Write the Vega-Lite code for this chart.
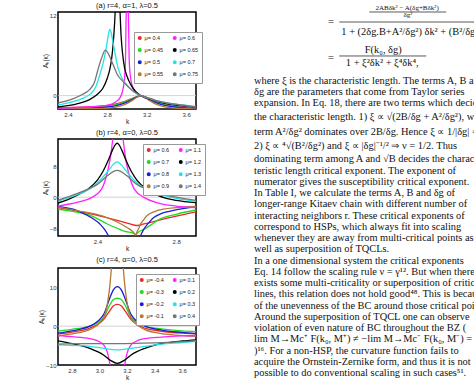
{
"$schema": "https://vega.github.io/schema/vega-lite/v6.json",
"padding": {"left": 38, "top": 0, "right": 0, "bottom": 0},
"background": "white",
"config": {
  "view": {"stroke": "#000", "strokeWidth": 1.5},
  "axis": {"ticks": false, "domain": false, "grid": false, "labelFontSize": 6, "labelFont": "Liberation Sans", "labelColor": "#333", "titleFontSize": 6.5, "titleFont": "Liberation Sans", "titleFontWeight": "normal", "titleColor": "#222", "labelPadding": 2, "titlePadding": 1},
  "title": {"fontSize": 7.5, "font": "Liberation Sans", "fontWeight": "normal", "color": "#111", "offset": 3},
  "legend": {"title": null, "columns": 2, "symbolType": "circle", "symbolSize": 4, "symbolStrokeWidth": 2, "labelFontSize": 5.5, "labelFont": "Liberation Sans", "labelColor": "#222", "rowPadding": 1.2, "columnPadding": 5, "padding": 3, "strokeColor": "#999", "fillColor": "#fff", "labelOffset": 2}
},
"datasets": {
"a": [
{"mu":"0.4","k":2.3,"y":-1.85},{"mu":"0.4","k":2.6,"y":-1.7},{"mu":"0.4","k":2.8,"y":-1.45},{"mu":"0.4","k":2.9,"y":-1.2},{"mu":"0.4","k":2.98,"y":-0.85},{"mu":"0.4","k":3.05,"y":-0.45},{"mu":"0.4","k":3.1,"y":-0.15},{"mu":"0.4","k":3.14,"y":0},{"mu":"0.4","k":3.18,"y":-0.15},{"mu":"0.4","k":3.23,"y":-0.45},{"mu":"0.4","k":3.3,"y":-0.85},{"mu":"0.4","k":3.38,"y":-1.2},{"mu":"0.4","k":3.48,"y":-1.45},{"mu":"0.4","k":3.6,"y":-1.65},{"mu":"0.4","k":3.7,"y":-1.75},
{"mu":"0.45","k":2.3,"y":-1.9},{"mu":"0.45","k":2.6,"y":-1.8},{"mu":"0.45","k":2.8,"y":-1.55},{"mu":"0.45","k":2.9,"y":-1.3},{"mu":"0.45","k":2.98,"y":-0.95},{"mu":"0.45","k":3.05,"y":-0.5},{"mu":"0.45","k":3.1,"y":-0.17},{"mu":"0.45","k":3.14,"y":0},{"mu":"0.45","k":3.18,"y":-0.17},{"mu":"0.45","k":3.23,"y":-0.5},{"mu":"0.45","k":3.3,"y":-0.95},{"mu":"0.45","k":3.38,"y":-1.3},{"mu":"0.45","k":3.48,"y":-1.55},{"mu":"0.45","k":3.6,"y":-1.75},{"mu":"0.45","k":3.7,"y":-1.82},
{"mu":"0.5","k":2.3,"y":-1.95},{"mu":"0.5","k":2.6,"y":-1.88},{"mu":"0.5","k":2.8,"y":-1.7},{"mu":"0.5","k":2.9,"y":-1.45},{"mu":"0.5","k":2.98,"y":-1.1},{"mu":"0.5","k":3.05,"y":-0.6},{"mu":"0.5","k":3.1,"y":-0.2},{"mu":"0.5","k":3.14,"y":0},{"mu":"0.5","k":3.18,"y":-0.2},{"mu":"0.5","k":3.23,"y":-0.6},{"mu":"0.5","k":3.3,"y":-1.1},{"mu":"0.5","k":3.38,"y":-1.45},{"mu":"0.5","k":3.48,"y":-1.7},{"mu":"0.5","k":3.6,"y":-1.85},{"mu":"0.5","k":3.7,"y":-1.9},
{"mu":"0.55","k":2.3,"y":-1.98},{"mu":"0.55","k":2.6,"y":-1.95},{"mu":"0.55","k":2.8,"y":-1.86},{"mu":"0.55","k":2.9,"y":-1.68},{"mu":"0.55","k":2.98,"y":-1.32},{"mu":"0.55","k":3.05,"y":-0.75},{"mu":"0.55","k":3.1,"y":-0.25},{"mu":"0.55","k":3.14,"y":0},{"mu":"0.55","k":3.18,"y":-0.25},{"mu":"0.55","k":3.23,"y":-0.75},{"mu":"0.55","k":3.3,"y":-1.32},{"mu":"0.55","k":3.38,"y":-1.68},{"mu":"0.55","k":3.48,"y":-1.86},{"mu":"0.55","k":3.6,"y":-1.94},{"mu":"0.55","k":3.7,"y":-1.98},
{"mu":"0.6","k":2.3,"y":-1.85},{"mu":"0.6","k":2.6,"y":-1.7},{"mu":"0.6","k":2.8,"y":-1.45},{"mu":"0.6","k":2.88,"y":-1.0},{"mu":"0.6","k":2.93,"y":-0.3},{"mu":"0.6","k":2.96,"y":1.0},{"mu":"0.6","k":2.975,"y":2.6},{"mu":"0.6","k":2.985,"y":5.5},{"mu":"0.6","k":2.992,"y":12.5},{"mu":"0.6","k":3.003,"y":30},{"mu":"0.6","k":3.014,"y":12.5},{"mu":"0.6","k":3.022,"y":5.5},{"mu":"0.6","k":3.035,"y":2.8},{"mu":"0.6","k":3.055,"y":1.4},{"mu":"0.6","k":3.085,"y":0.6},{"mu":"0.6","k":3.14,"y":0},{"mu":"0.6","k":3.25,"y":-0.6},{"mu":"0.6","k":3.4,"y":-1.2},{"mu":"0.6","k":3.55,"y":-1.55},{"mu":"0.6","k":3.7,"y":-1.75},
{"mu":"0.65","k":2.3,"y":-1.7},{"mu":"0.65","k":2.5,"y":-1.2},{"mu":"0.65","k":2.62,"y":-0.6},{"mu":"0.65","k":2.7,"y":0.2},{"mu":"0.65","k":2.755,"y":1.1},{"mu":"0.65","k":2.8,"y":2.6},{"mu":"0.65","k":2.825,"y":3.9},{"mu":"0.65","k":2.845,"y":5.6},{"mu":"0.65","k":2.86,"y":7.8},{"mu":"0.65","k":2.875,"y":11},{"mu":"0.65","k":2.885,"y":14},{"mu":"0.65","k":2.905,"y":20},{"mu":"0.65","k":2.925,"y":14},{"mu":"0.65","k":2.94,"y":9},{"mu":"0.65","k":2.955,"y":6.3},{"mu":"0.65","k":2.975,"y":4.2},{"mu":"0.65","k":3.0,"y":2.9},{"mu":"0.65","k":3.04,"y":1.6},{"mu":"0.65","k":3.085,"y":0.65},{"mu":"0.65","k":3.14,"y":0},{"mu":"0.65","k":3.25,"y":-0.6},{"mu":"0.65","k":3.4,"y":-1.2},{"mu":"0.65","k":3.55,"y":-1.5},{"mu":"0.65","k":3.7,"y":-1.7},
{"mu":"0.7","k":2.3,"y":-1.4},{"mu":"0.7","k":2.45,"y":-0.9},{"mu":"0.7","k":2.55,"y":-0.4},{"mu":"0.7","k":2.62,"y":0.15},{"mu":"0.7","k":2.68,"y":1.2},{"mu":"0.7","k":2.72,"y":2.9},{"mu":"0.7","k":2.76,"y":5.0},{"mu":"0.7","k":2.79,"y":7.2},{"mu":"0.7","k":2.81,"y":9.0},{"mu":"0.7","k":2.825,"y":9.9},{"mu":"0.7","k":2.84,"y":9.4},{"mu":"0.7","k":2.86,"y":7.8},{"mu":"0.7","k":2.885,"y":5.8},{"mu":"0.7","k":2.91,"y":4.1},{"mu":"0.7","k":2.95,"y":2.6},{"mu":"0.7","k":3.0,"y":1.6},{"mu":"0.7","k":3.05,"y":0.8},{"mu":"0.7","k":3.1,"y":0.3},{"mu":"0.7","k":3.14,"y":0},{"mu":"0.7","k":3.25,"y":-0.55},{"mu":"0.7","k":3.4,"y":-1.1},{"mu":"0.7","k":3.55,"y":-1.4},{"mu":"0.7","k":3.7,"y":-1.6},
{"mu":"0.75","k":2.3,"y":-1.1},{"mu":"0.75","k":2.45,"y":-0.5},{"mu":"0.75","k":2.55,"y":0.2},{"mu":"0.75","k":2.62,"y":0.9},{"mu":"0.75","k":2.67,"y":2.0},{"mu":"0.75","k":2.7,"y":3.6},{"mu":"0.75","k":2.74,"y":5.5},{"mu":"0.75","k":2.78,"y":6.8},{"mu":"0.75","k":2.81,"y":6.3},{"mu":"0.75","k":2.84,"y":5.3},{"mu":"0.75","k":2.86,"y":4.6},{"mu":"0.75","k":2.9,"y":3.2},{"mu":"0.75","k":2.96,"y":2.1},{"mu":"0.75","k":3.02,"y":1.2},{"mu":"0.75","k":3.07,"y":0.6},{"mu":"0.75","k":3.14,"y":0},{"mu":"0.75","k":3.25,"y":-0.5},{"mu":"0.75","k":3.31,"y":-0.8},{"mu":"0.75","k":3.45,"y":-1.2},{"mu":"0.75","k":3.6,"y":-1.5},{"mu":"0.75","k":3.7,"y":-1.7}
],
"b": [
{"mu":"0.6","k":2.2,"y":-2.7},{"mu":"0.6","k":2.3,"y":-3.6},{"mu":"0.6","k":2.4,"y":-4.7},{"mu":"0.6","k":2.5,"y":-6.0},{"mu":"0.6","k":2.56,"y":-6.8},{"mu":"0.6","k":2.6,"y":-7.3},{"mu":"0.6","k":2.62,"y":-7.1},{"mu":"0.6","k":2.66,"y":-6.6},{"mu":"0.6","k":2.7,"y":-6.1},{"mu":"0.6","k":2.8,"y":-4.9},{"mu":"0.6","k":2.9,"y":-3.8},
{"mu":"0.7","k":2.2,"y":-3.1},{"mu":"0.7","k":2.3,"y":-3.9},{"mu":"0.7","k":2.37,"y":-4.8},{"mu":"0.7","k":2.45,"y":-6.9},{"mu":"0.7","k":2.5,"y":-8.0},{"mu":"0.7","k":2.54,"y":-8.8},{"mu":"0.7","k":2.585,"y":-9.3},{"mu":"0.7","k":2.595,"y":-9.6},{"mu":"0.7","k":2.61,"y":-8.9},{"mu":"0.7","k":2.635,"y":-8.3},{"mu":"0.7","k":2.67,"y":-7.2},{"mu":"0.7","k":2.7,"y":-6.1},{"mu":"0.7","k":2.8,"y":-4.4},{"mu":"0.7","k":2.9,"y":-3.3},
{"mu":"0.8","k":2.2,"y":-2.4},{"mu":"0.8","k":2.3,"y":-3.5},{"mu":"0.8","k":2.37,"y":-5.3},{"mu":"0.8","k":2.41,"y":-6.8},{"mu":"0.8","k":2.436,"y":-8.3},{"mu":"0.8","k":2.46,"y":-10.5},{"mu":"0.8","k":2.48,"y":-14},{"mu":"0.8","k":2.545,"y":-25},{"mu":"0.8","k":2.6,"y":-14},{"mu":"0.8","k":2.615,"y":-10.5},{"mu":"0.8","k":2.635,"y":-8.3},{"mu":"0.8","k":2.66,"y":-6.6},{"mu":"0.8","k":2.684,"y":-5.3},{"mu":"0.8","k":2.72,"y":-4.3},{"mu":"0.8","k":2.77,"y":-3.6},{"mu":"0.8","k":2.84,"y":-2.9},{"mu":"0.8","k":2.9,"y":-2.5},
{"mu":"0.9","k":2.2,"y":-2.5},{"mu":"0.9","k":2.3,"y":-3.5},{"mu":"0.9","k":2.4,"y":-4.5},{"mu":"0.9","k":2.45,"y":-5.3},{"mu":"0.9","k":2.5,"y":-6.4},{"mu":"0.9","k":2.55,"y":-7.8},{"mu":"0.9","k":2.58,"y":-8.9},{"mu":"0.9","k":2.595,"y":-9.8},{"mu":"0.9","k":2.6,"y":-9.0},{"mu":"0.9","k":2.61,"y":-8.0},{"mu":"0.9","k":2.618,"y":-7.0},{"mu":"0.9","k":2.635,"y":-5.8},{"mu":"0.9","k":2.651,"y":-4.8},{"mu":"0.9","k":2.69,"y":-3.7},{"mu":"0.9","k":2.734,"y":-3.1},{"mu":"0.9","k":2.8,"y":-2.7},{"mu":"0.9","k":2.9,"y":-2.4},
{"mu":"1.1","k":2.2,"y":-2.3},{"mu":"1.1","k":2.3,"y":-1.3},{"mu":"1.1","k":2.37,"y":-0.1},{"mu":"1.1","k":2.42,"y":2.0},{"mu":"1.1","k":2.45,"y":6.3},{"mu":"1.1","k":2.465,"y":10},{"mu":"1.1","k":2.478,"y":15},{"mu":"1.1","k":2.504,"y":28},{"mu":"1.1","k":2.53,"y":15},{"mu":"1.1","k":2.543,"y":10},{"mu":"1.1","k":2.558,"y":6.3},{"mu":"1.1","k":2.588,"y":2.0},{"mu":"1.1","k":2.638,"y":-0.1},{"mu":"1.1","k":2.7,"y":-1.4},{"mu":"1.1","k":2.8,"y":-2.3},{"mu":"1.1","k":2.9,"y":-2.7},
{"mu":"1.2","k":2.2,"y":-1.5},{"mu":"1.2","k":2.25,"y":-0.6},{"mu":"1.2","k":2.3,"y":0.6},{"mu":"1.2","k":2.35,"y":2.0},{"mu":"1.2","k":2.4,"y":4.4},{"mu":"1.2","k":2.43,"y":6.8},{"mu":"1.2","k":2.455,"y":9.5},{"mu":"1.2","k":2.475,"y":12},{"mu":"1.2","k":2.49,"y":13.5},{"mu":"1.2","k":2.5,"y":13.9},{"mu":"1.2","k":2.51,"y":13.5},{"mu":"1.2","k":2.525,"y":12},{"mu":"1.2","k":2.545,"y":9.5},{"mu":"1.2","k":2.57,"y":6.8},{"mu":"1.2","k":2.6,"y":4.4},{"mu":"1.2","k":2.65,"y":2.0},{"mu":"1.2","k":2.7,"y":0.6},{"mu":"1.2","k":2.75,"y":-0.3},{"mu":"1.2","k":2.8,"y":-0.8},{"mu":"1.2","k":2.9,"y":-1.4},
{"mu":"1.3","k":2.2,"y":-1.0},{"mu":"1.3","k":2.3,"y":0.7},{"mu":"1.3","k":2.35,"y":1.8},{"mu":"1.3","k":2.4,"y":3.7},{"mu":"1.3","k":2.45,"y":6.5},{"mu":"1.3","k":2.48,"y":8.4},{"mu":"1.3","k":2.5,"y":9.1},{"mu":"1.3","k":2.52,"y":8.4},{"mu":"1.3","k":2.55,"y":6.5},{"mu":"1.3","k":2.6,"y":3.7},{"mu":"1.3","k":2.65,"y":2.0},{"mu":"1.3","k":2.7,"y":1.0},{"mu":"1.3","k":2.8,"y":-0.3},{"mu":"1.3","k":2.9,"y":-1.0},
{"mu":"1.4","k":2.2,"y":-0.8},{"mu":"1.4","k":2.3,"y":1.0},{"mu":"1.4","k":2.35,"y":2.0},{"mu":"1.4","k":2.4,"y":3.3},{"mu":"1.4","k":2.45,"y":5.5},{"mu":"1.4","k":2.48,"y":6.6},{"mu":"1.4","k":2.5,"y":6.9},{"mu":"1.4","k":2.52,"y":6.6},{"mu":"1.4","k":2.55,"y":5.5},{"mu":"1.4","k":2.6,"y":3.3},{"mu":"1.4","k":2.65,"y":2.1},{"mu":"1.4","k":2.7,"y":1.2},{"mu":"1.4","k":2.8,"y":0},{"mu":"1.4","k":2.9,"y":-0.8}
],
"c": [
{"mu":"-0.4","k":2.7,"y":-2.0},{"mu":"-0.4","k":2.8,"y":-1.5},{"mu":"-0.4","k":2.93,"y":-0.5},{"mu":"-0.4","k":3.03,"y":1.7},{"mu":"-0.4","k":3.077,"y":4.1},{"mu":"-0.4","k":3.1,"y":5.2},{"mu":"-0.4","k":3.13,"y":5.6},{"mu":"-0.4","k":3.16,"y":5.2},{"mu":"-0.4","k":3.183,"y":4.1},{"mu":"-0.4","k":3.23,"y":1.7},{"mu":"-0.4","k":3.33,"y":-0.5},{"mu":"-0.4","k":3.45,"y":-1.3},{"mu":"-0.4","k":3.6,"y":-1.8},{"mu":"-0.4","k":3.7,"y":-2.0},
{"mu":"-0.3","k":2.7,"y":-1.3},{"mu":"-0.3","k":2.8,"y":-0.8},{"mu":"-0.3","k":2.93,"y":0},{"mu":"-0.3","k":3.03,"y":2.2},{"mu":"-0.3","k":3.077,"y":5.6},{"mu":"-0.3","k":3.1,"y":6.8},{"mu":"-0.3","k":3.13,"y":7.2},{"mu":"-0.3","k":3.16,"y":6.8},{"mu":"-0.3","k":3.183,"y":5.6},{"mu":"-0.3","k":3.23,"y":2.2},{"mu":"-0.3","k":3.33,"y":0},{"mu":"-0.3","k":3.45,"y":-0.7},{"mu":"-0.3","k":3.6,"y":-1.2},{"mu":"-0.3","k":3.7,"y":-1.4},
{"mu":"-0.2","k":2.7,"y":-1.8},{"mu":"-0.2","k":2.8,"y":-1.2},{"mu":"-0.2","k":2.93,"y":0},{"mu":"-0.2","k":3.03,"y":3.0},{"mu":"-0.2","k":3.077,"y":7.4},{"mu":"-0.2","k":3.1,"y":9.3},{"mu":"-0.2","k":3.13,"y":10.2},{"mu":"-0.2","k":3.16,"y":9.3},{"mu":"-0.2","k":3.183,"y":7.4},{"mu":"-0.2","k":3.23,"y":3.0},{"mu":"-0.2","k":3.33,"y":0},{"mu":"-0.2","k":3.45,"y":-1.0},{"mu":"-0.2","k":3.6,"y":-1.6},{"mu":"-0.2","k":3.7,"y":-1.9},
{"mu":"-0.1","k":2.7,"y":-2.5},{"mu":"-0.1","k":2.83,"y":-1.8},{"mu":"-0.1","k":2.93,"y":-0.9},{"mu":"-0.1","k":3.004,"y":0.9},{"mu":"-0.1","k":3.04,"y":3.0},{"mu":"-0.1","k":3.053,"y":4.8},{"mu":"-0.1","k":3.077,"y":10.9},{"mu":"-0.1","k":3.089,"y":16},{"mu":"-0.1","k":3.13,"y":40},{"mu":"-0.1","k":3.171,"y":16},{"mu":"-0.1","k":3.183,"y":10.9},{"mu":"-0.1","k":3.207,"y":4.8},{"mu":"-0.1","k":3.22,"y":3.0},{"mu":"-0.1","k":3.256,"y":0.9},{"mu":"-0.1","k":3.33,"y":-0.9},{"mu":"-0.1","k":3.43,"y":-1.8},{"mu":"-0.1","k":3.55,"y":-2.3},{"mu":"-0.1","k":3.7,"y":-2.6},
{"mu":"0.1","k":2.7,"y":-2.4},{"mu":"0.1","k":2.8,"y":-2.7},{"mu":"0.1","k":2.93,"y":-3.2},{"mu":"0.1","k":3.0,"y":-4.0},{"mu":"0.1","k":3.03,"y":-4.8},{"mu":"0.1","k":3.06,"y":-7.0},{"mu":"0.1","k":3.077,"y":-10},{"mu":"0.1","k":3.1,"y":-16},{"mu":"0.1","k":3.13,"y":-30},{"mu":"0.1","k":3.16,"y":-16},{"mu":"0.1","k":3.183,"y":-10},{"mu":"0.1","k":3.2,"y":-7.0},{"mu":"0.1","k":3.23,"y":-4.8},{"mu":"0.1","k":3.26,"y":-4.0},{"mu":"0.1","k":3.33,"y":-3.2},{"mu":"0.1","k":3.45,"y":-2.8},{"mu":"0.1","k":3.6,"y":-2.5},{"mu":"0.1","k":3.7,"y":-2.4},
{"mu":"0.2","k":2.7,"y":-3.8},{"mu":"0.2","k":2.8,"y":-4.5},{"mu":"0.2","k":2.93,"y":-5.7},{"mu":"0.2","k":3.03,"y":-7.4},{"mu":"0.2","k":3.08,"y":-8.8},{"mu":"0.2","k":3.13,"y":-9.6},{"mu":"0.2","k":3.18,"y":-8.8},{"mu":"0.2","k":3.23,"y":-7.4},{"mu":"0.2","k":3.33,"y":-5.7},{"mu":"0.2","k":3.45,"y":-4.5},{"mu":"0.2","k":3.6,"y":-3.8},{"mu":"0.2","k":3.7,"y":-3.5},
{"mu":"0.3","k":2.7,"y":-4.8},{"mu":"0.3","k":2.85,"y":-5.0},{"mu":"0.3","k":2.93,"y":-5.2},{"mu":"0.3","k":3.03,"y":-5.7},{"mu":"0.3","k":3.13,"y":-6.1},{"mu":"0.3","k":3.23,"y":-5.7},{"mu":"0.3","k":3.33,"y":-5.2},{"mu":"0.3","k":3.45,"y":-4.6},{"mu":"0.3","k":3.6,"y":-4.2},{"mu":"0.3","k":3.7,"y":-3.9},
{"mu":"0.4","k":2.7,"y":-4.6},{"mu":"0.4","k":2.9,"y":-4.5},{"mu":"0.4","k":3.13,"y":-4.5},{"mu":"0.4","k":3.4,"y":-4.3},{"mu":"0.4","k":3.7,"y":-3.8}
],
"body": [
{"line":0,"text":"where ξ is the characteristic length. The terms A, B and"},
{"line":1,"text":"δg are the parameters that come from Taylor series"},
{"line":2,"text":"expansion. In Eq. 18, there are two terms which decide"},
{"line":3.2,"text":"the characteristic length. 1) ξ ∝ √(2B/δg + A²/δg²), where"},
{"line":4.6,"text":"term A²/δg² dominates over 2B/δg. Hence ξ ∝ 1/|δg| ⇒ ν = 1."},
{"line":5.85,"text":"2) ξ ∝ ⁴√(B²/δg²) and ξ ∝ |δg|⁻¹/² ⇒ ν = 1/2. Thus"},
{"line":7,"text":"dominating term among A and √B decides the charac-"},
{"line":8,"text":"teristic length critical exponent. The exponent of"},
{"line":9,"text":"numerator gives the susceptibility critical exponent."},
{"line":10,"text":"In Table I, we calculate the terms A, B and δg of"},
{"line":11,"text":"longer-range Kitaev chain with different number of"},
{"line":12,"text":"interacting neighbors r. These critical exponents of"},
{"line":13,"text":"correspond to HSPs, which always fit into scaling"},
{"line":14,"text":"whenever they are away from multi-critical points as"},
{"line":15,"text":"well as superposition of TQCLs."},
{"line":16,"text":"In a one dimensional system the critical exponents"},
{"line":17,"text":"Eq. 14 follow the scaling rule ν = γ¹². But when there"},
{"line":18,"text":"exists some multi-criticality or superposition of critical"},
{"line":19,"text":"lines, this relation does not hold good⁴⁸. This is because"},
{"line":20,"text":"of the unevenness of the BC around those critical points."},
{"line":21,"text":"Around the superposition of TQCL one can observe"},
{"line":22,"text":"violation of even nature of BC throughout the BZ ("},
{"line":23,"text":"lim M→Mc⁺ F(k₀, M⁺) ≠ −lim M→Mc⁻ F(k₀, M⁻) = 0"},
{"line":24,"text":")¹⁶.   For a non-HSP, the curvature function fails to"},
{"line":25,"text":"acquire the Ornstein-Zernike form, and thus it is not"},
{"line":26,"text":"possible to do conventional scaling in such cases⁵¹."}
],
"eqsmall": [
{"line":-6.44,"col":0.696,"text":"2ABδk² − A(δg+Bδk²)"},
{"line":-5.78,"col":0.70,"text":"δg²"}
],
"eqleft": [
{"line":-5.24,"col":0.336,"text":"="},
{"line":-4.31,"col":0.397,"text":"1 + (2δg.B+A²/δg²) δk² + (B²/δg²) δk⁴"},
{"line":-1.96,"col":0.336,"text":"="}
],
"eqcenter": [
{"line":-2.67,"col":0.5875,"text":"F(k₀, δg)"},
{"line":-1.56,"col":0.583,"text":"1 + ξ²δk² + ξ⁴δk⁴,"}
],
"bars": [
{"line":-6.09,"c0":0.524,"c1":0.874},
{"line":-5.2,"c0":0.3875,"c1":1.0},
{"line":-2.18,"c0":0.3875,"c1":0.783}
]
},
"hconcat": [
{
"vconcat": [
{
"title": {"text": "(a) r=4, α=1, λ=0.5", "offset": 3},
"width": 138, "height": 97,
"layer": [
{"data": {"values": [{}]}, "mark": {"type": "rule", "color": "#c8c8c8", "strokeWidth": 0.8}, "encoding": {"y": {"datum": 0, "type": "quantitative"}}},
{"data": {"name": "a"}, "mark": {"type": "line", "clip": true, "strokeWidth": 1.3, "interpolate": "monotone"},
"encoding": {
"x": {"field": "k", "type": "quantitative", "scale": {"domain": [2.3, 3.7], "nice": false, "zero": false}, "axis": {"values": [2.4, 2.8, 3.2, 3.6], "title": "k"}},
"y": {"field": "y", "type": "quantitative", "scale": {"domain": [-2, 12.5], "nice": false, "zero": false}, "axis": {"values": [0, 4, 8, 12], "title": "Aₖ(κ)"}},
"color": {"field": "mu", "type": "nominal", "scale": {"domain": ["0.4","0.45","0.5","0.55","0.6","0.65","0.7","0.75"], "range": ["#e82a2a","#22d822","#1c1cd6","#b37838","#ff22ff","#000000","#22e4e4","#767676"]}, "legend": {"orient": "none", "legendX": 76, "legendY": 20, "labelExpr": "'μ= ' + datum.label"}}
}}
]
},
{
"title": {"text": "(b) r=4, α=0, λ=0.5", "offset": 3},
"width": 138, "height": 97,
"layer": [
{"data": {"values": [{}]}, "mark": {"type": "rule", "color": "#c8c8c8", "strokeWidth": 0.8}, "encoding": {"y": {"datum": 0, "type": "quantitative"}}},
{"data": {"name": "b"}, "mark": {"type": "line", "clip": true, "strokeWidth": 1.3, "interpolate": "monotone"},
"encoding": {
"x": {"field": "k", "type": "quantitative", "scale": {"domain": [2.2, 2.9], "nice": false, "zero": false}, "axis": {"values": [2.4, 2.8], "title": "k"}},
"y": {"field": "y", "type": "quantitative", "scale": {"domain": [-10, 15], "nice": false, "zero": false}, "axis": {"values": [-8, -4, 0, 4, 8, 12], "title": "Aₖ(κ)"}},
"color": {"field": "mu", "type": "nominal", "scale": {"domain": ["0.6","0.7","0.8","0.9","1.1","1.2","1.3","1.4"], "range": ["#e82a2a","#22d822","#1c1cd6","#b37838","#ff22ff","#000000","#22e4e4","#767676"]}, "legend": {"orient": "none", "legendX": 85, "legendY": 5, "labelExpr": "'μ= ' + datum.label"}}
}}
]
},
{
"title": {"text": "(c) r=4, α=0, λ=0.5", "offset": 5},
"width": 138, "height": 97,
"layer": [
{"data": {"values": [{}]}, "mark": {"type": "rule", "color": "#c8c8c8", "strokeWidth": 0.8}, "encoding": {"y": {"datum": 0, "type": "quantitative"}}},
{"data": {"name": "c"}, "mark": {"type": "line", "clip": true, "strokeWidth": 1.3, "interpolate": "monotone"},
"encoding": {
"x": {"field": "k", "type": "quantitative", "scale": {"domain": [2.7, 3.7], "nice": false, "zero": false}, "axis": {"values": [2.8, 3.0, 3.2, 3.4, 3.6], "format": ".1f", "title": "k"}},
"y": {"field": "y", "type": "quantitative", "scale": {"domain": [-10, 15], "nice": false, "zero": false}, "axis": {"values": [-10, -5, 0, 5, 10, 15], "title": "Aₖ(κ)"}},
"color": {"field": "mu", "type": "nominal", "scale": {"domain": ["-0.4","-0.3","-0.2","-0.1","0.1","0.2","0.3","0.4"], "range": ["#e82a2a","#22d822","#1c1cd6","#b37838","#ff22ff","#000000","#22e4e4","#767676"]}, "legend": {"orient": "none", "legendX": 78, "legendY": 6, "labelExpr": "'μ= ' + datum.label"}}
}}
]
}
],
"spacing": 1,
"resolve": {"scale": {"color": "independent", "x": "independent", "y": "independent"}, "legend": {"color": "independent"}}
},
{
"width": 220, "height": 369,
"view": {"stroke": null},
"layer": [
{"data": {"name": "body"}, "mark": {"type": "text", "align": "left", "baseline": "middle", "font": "Liberation Serif", "fontSize": 10.4, "color": "#111", "clip": true},
"encoding": {
"x": {"datum": 0, "type": "quantitative", "scale": {"domain": [0, 1], "nice": false, "zero": false}, "axis": null},
"y": {"field": "line", "type": "quantitative", "scale": {"domain": [-6.089, 26.711], "reverse": true, "nice": false, "zero": false}, "axis": null},
"text": {"field": "text"}}},
{"data": {"name": "eqsmall"}, "mark": {"type": "text", "align": "center", "baseline": "middle", "font": "Liberation Serif", "fontSize": 7, "color": "#111", "clip": false},
"encoding": {"x": {"field": "col", "type": "quantitative"}, "y": {"field": "line", "type": "quantitative"}, "text": {"field": "text"}}},
{"data": {"name": "eqleft"}, "mark": {"type": "text", "align": "left", "baseline": "middle", "font": "Liberation Serif", "fontSize": 10.4, "color": "#111", "clip": true},
"encoding": {"x": {"field": "col", "type": "quantitative"}, "y": {"field": "line", "type": "quantitative"}, "text": {"field": "text"}}},
{"data": {"name": "eqcenter"}, "mark": {"type": "text", "align": "center", "baseline": "middle", "font": "Liberation Serif", "fontSize": 10.4, "color": "#111", "clip": true},
"encoding": {"x": {"field": "col", "type": "quantitative"}, "y": {"field": "line", "type": "quantitative"}, "text": {"field": "text"}}},
{"data": {"name": "bars"}, "mark": {"type": "rule", "color": "#111", "strokeWidth": 0.7, "clip": false},
"encoding": {"x": {"field": "c0", "type": "quantitative"}, "x2": {"field": "c1"}, "y": {"field": "line", "type": "quantitative"}}}
]
}
],
"spacing": 47
}
